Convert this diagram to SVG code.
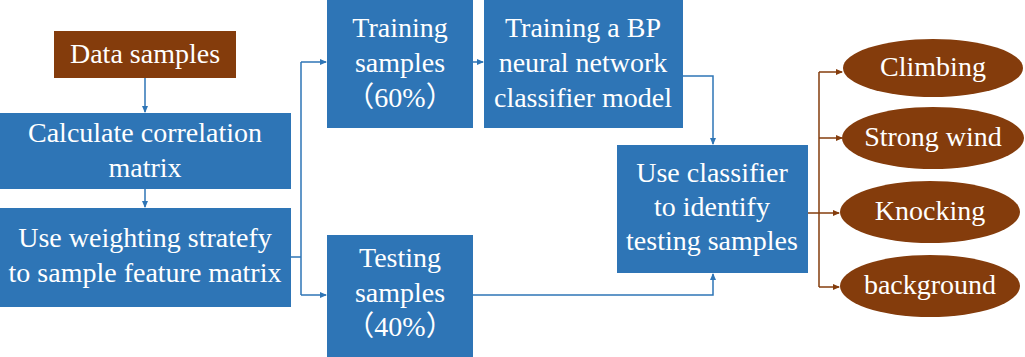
<svg xmlns="http://www.w3.org/2000/svg" width="1025" height="357" viewBox="0 0 1025 357">
<defs>
<style>
.box{fill:#2E75B6}
.brown{fill:#843C0C}
.cb{fill:none;stroke:#2E75B6;stroke-width:1.5}
.cr{fill:none;stroke:#843C0C;stroke-width:1.5}
</style>
<marker id="ab" markerWidth="8" markerHeight="8" refX="6" refY="4" orient="auto" markerUnits="userSpaceOnUse"><path d="M0,1 L7,4 L0,7 Z" fill="#2E75B6"/></marker>
<marker id="ar" markerWidth="8" markerHeight="8" refX="6" refY="4" orient="auto" markerUnits="userSpaceOnUse"><path d="M0,1 L7,4 L0,7 Z" fill="#843C0C"/></marker>
</defs>
<rect width="1025" height="357" fill="#fff"/>
<g id="connectors">
<path class="cb" d="M145,78 V112" marker-end="url(#ab)"/>
<path class="cb" d="M145,189 V207" marker-end="url(#ab)"/>
<path class="cb" d="M291,257 H301 M301,62 V295"/>
<path class="cb" d="M301,62 H326" marker-end="url(#ab)"/>
<path class="cb" d="M301,295 H326" marker-end="url(#ab)"/>
<path class="cb" d="M473,62 H483" marker-end="url(#ab)"/>
<path class="cb" d="M683,76 H713 V144" marker-end="url(#ab)"/>
<path class="cb" d="M473,295 H713 V274" marker-end="url(#ab)"/>
<path class="cr" d="M808,213 H819 M819,72 V287"/>
<path class="cr" d="M819,72 H842" marker-end="url(#ar)"/>
<path class="cr" d="M819,138 H842" marker-end="url(#ar)"/>
<path class="cr" d="M819,213 H839" marker-end="url(#ar)"/>
<path class="cr" d="M819,287 H839" marker-end="url(#ar)"/>
</g>
<g id="data-samples"><rect class="brown" x="54" y="31" width="182" height="47"/><text x="145" y="63" font-size="28" fill="#fff" text-anchor="middle" font-family="Liberation Serif">Data samples</text></g>
<g id="calc-corr"><rect class="box" x="0" y="113" width="291" height="76"/><text x="145" y="142" font-size="28" fill="#fff" text-anchor="middle" font-family="Liberation Serif">Calculate correlation</text><text x="145" y="177" font-size="28" fill="#fff" text-anchor="middle" font-family="Liberation Serif">matrix</text></g>
<g id="weighting"><rect class="box" x="0" y="208" width="291" height="99"/><text x="145" y="247" font-size="28" fill="#fff" text-anchor="middle" font-family="Liberation Serif">Use weighting stratefy</text><text x="145" y="282" font-size="28" fill="#fff" text-anchor="middle" font-family="Liberation Serif">to sample feature matrix</text></g>
<g id="training"><rect class="box" x="327" y="0" width="146" height="128"/><text x="400" y="37" font-size="28" fill="#fff" text-anchor="middle" font-family="Liberation Serif">Training</text><text x="400" y="72" font-size="28" fill="#fff" text-anchor="middle" font-family="Liberation Serif">samples</text><text x="400" y="107" font-size="28" fill="#fff" text-anchor="middle" font-family="Liberation Serif, Noto Sans CJK SC, serif">（60%）</text></g>
<g id="bp"><rect class="box" x="484" y="0" width="199" height="128"/><text x="583" y="37" font-size="28" fill="#fff" text-anchor="middle" font-family="Liberation Serif">Training a BP</text><text x="583" y="72" font-size="28" fill="#fff" text-anchor="middle" font-family="Liberation Serif">neural network</text><text x="583" y="107" font-size="28" fill="#fff" text-anchor="middle" font-family="Liberation Serif">classifier model</text></g>
<g id="testing"><rect class="box" x="327" y="235" width="146" height="122"/><text x="400" y="267" font-size="28" fill="#fff" text-anchor="middle" font-family="Liberation Serif">Testing</text><text x="400" y="302" font-size="28" fill="#fff" text-anchor="middle" font-family="Liberation Serif">samples</text><text x="400" y="336" font-size="28" fill="#fff" text-anchor="middle" font-family="Liberation Serif, Noto Sans CJK SC, serif">（40%）</text></g>
<g id="classifier"><rect class="box" x="617" y="145" width="191" height="128"/><text x="712" y="182" font-size="28" fill="#fff" text-anchor="middle" font-family="Liberation Serif">Use classifier</text><text x="712" y="216" font-size="28" fill="#fff" text-anchor="middle" font-family="Liberation Serif">to identify</text><text x="712" y="250" font-size="28" fill="#fff" text-anchor="middle" font-family="Liberation Serif">testing samples</text></g>
<g id="climbing"><ellipse class="brown" cx="933" cy="68" rx="90" ry="29"/><text x="933" y="76" font-size="28" fill="#fff" text-anchor="middle" font-family="Liberation Serif">Climbing</text></g>
<g id="strong-wind"><ellipse class="brown" cx="933" cy="138" rx="91" ry="31"/><text x="933" y="146" font-size="28" fill="#fff" text-anchor="middle" font-family="Liberation Serif">Strong wind</text></g>
<g id="knocking"><ellipse class="brown" cx="930" cy="212" rx="90" ry="31"/><text x="930" y="220" font-size="28" fill="#fff" text-anchor="middle" font-family="Liberation Serif">Knocking</text></g>
<g id="background"><ellipse class="brown" cx="930" cy="286" rx="90" ry="31"/><text x="930" y="294" font-size="28" fill="#fff" text-anchor="middle" font-family="Liberation Serif">background</text></g>
</svg>
